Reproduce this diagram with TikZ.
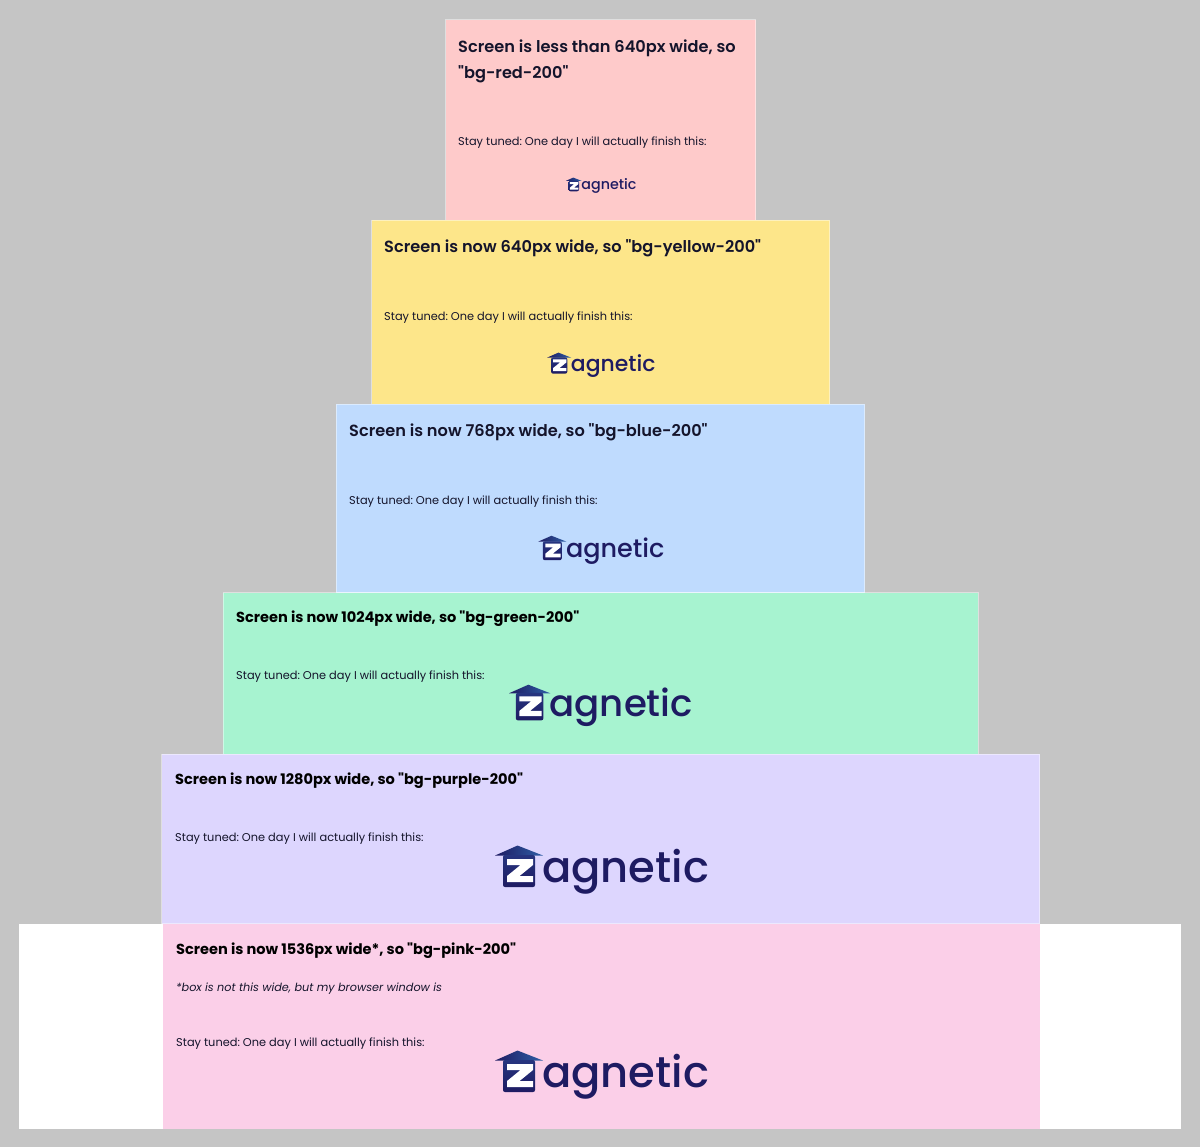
\documentclass[tikz,border=0pt]{standalone}
\usepackage{fontspec}
\usetikzlibrary{shadings}
\definecolor{pagegray}{HTML}{C5C5C5}
\definecolor{redbox}{HTML}{FECACA}
\definecolor{yellowbox}{HTML}{FDE68A}
\definecolor{bluebox}{HTML}{BFDBFE}
\definecolor{greenbox}{HTML}{A7F3D0}
\definecolor{purplebox}{HTML}{DDD6FE}
\definecolor{pinkbox}{HTML}{FBCFE8}
\definecolor{logonavy}{HTML}{1E1B62}
\definecolor{logomid}{HTML}{26357F}
\definecolor{logoblue}{HTML}{2E5FA6}
\definecolor{inktext}{HTML}{14142B}
\newfontfamily\bodyfont{Poppins}
\newfontfamily\headfont{Poppins SemiBold}
\newfontfamily\logofont{Poppins Medium}
\tikzset{
  panel/.style={draw=white, draw opacity=0.45, line width=0.01cm},
  headline/.style={anchor=base west, inner sep=0pt, xshift=-0.005cm, text=inktext, font=\frenchspacing\fontsize{4.6}{6}\headfont},
  headlinesmall/.style={headline, text=black, font=\frenchspacing\fontsize{4.14}{6}\bodyfont\bfseries},
  staytuned/.style={anchor=base west, inner sep=0pt, xshift=-0.005cm, text=inktext, font=\frenchspacing\fontsize{3.23}{5}\bodyfont},
  zaglogo/.pic={
    \shade[left color=logonavy, right color=logoblue] (-106.5,-12.5) -- (-84,-22.5) -- (-58.5,-12.5) -- cycle;
    \shade[top color=logomid, bottom color=logonavy, rounded corners=0.02cm] (-98.5,-13) rectangle (-66.5,19);
    \fill[white] (-94.5,-9) -- (-68.5,-9) -- (-68.5,-3) -- (-82,8) -- (-68.5,8) -- (-68.5,14) -- (-94.5,14) -- (-94.5,8) -- (-81,-3) -- (-94.5,-3) -- cycle;
    \node[anchor=base west, inner sep=0pt, transform shape, text=logonavy, font=\fontsize{12.3}{14}\logofont] (-wordmark) at (-60,14.5) {agnetic};
  }
}
\begin{document}
\begin{tikzpicture}[x=0.01cm, y=-0.01cm]
    \useasboundingbox (0,0) rectangle (1200,1147);
    \fill[pagegray] (0,0) rectangle (1200,1147);

    \draw[panel, fill=redbox] (445.5,19.5) rectangle (755.5,220);
    \draw[panel, fill=yellowbox] (371.5,220) rectangle (829.5,404);
    \draw[panel, fill=bluebox] (336,404) rectangle (864.5,592.5);
    \draw[panel, fill=greenbox] (223,592.5) rectangle (978,754);
    \draw[panel, fill=purplebox] (161.5,754) rectangle (1039.5,923.5);
    \fill[white] (19,924) rectangle (1181,1129);
    \fill[pinkbox] (163,924) rectangle (1040,1129);

    \node[headline] (redhead) at (458,52.5) {Screen is less than 640px wide, so};
    \node[headline] (redheadb) at (458,78) {"bg-red-200"};
    \node[staytuned] (redstay) at (458,145.5) {Stay tuned: One day I will actually finish this:};
    \pic (redlogo) [scale=0.33] at (601,185) {zaglogo};

    \node[headline] (yellowhead) at (384,252) {Screen is now 640px wide, so "bg-yellow-200"};
    \node[staytuned] (yellowstay) at (384,320.5) {Stay tuned: One day I will actually finish this:};
    \pic (yellowlogo) [scale=0.507] at (601,364) {zaglogo};

    \node[headline] (bluehead) at (349,436) {Screen is now 768px wide, so "bg-blue-200"};
    \node[staytuned] (bluestay) at (349,504.5) {Stay tuned: One day I will actually finish this:};
    \pic (bluelogo) [scale=0.59] at (601,549) {zaglogo};

    \node[headlinesmall] (greenhead) at (236,622.5) {Screen is now 1024px wide, so "bg-green-200"};
    \node[staytuned] (greenstay) at (236,679.5) {Stay tuned: One day I will actually finish this:};
    \pic (greenlogo) [scale=0.859] at (600.5,704) {zaglogo};

    \node[headlinesmall] (purplehead) at (175,784.5) {Screen is now 1280px wide, so "bg-purple-200"};
    \node[staytuned] (purplestay) at (175,841.5) {Stay tuned: One day I will actually finish this:};
    \pic (purplelogo) at (601.5,868) {zaglogo};

    \node[headlinesmall] (pinkhead) at (176,954) {Screen is now 1536px wide*, so "bg-pink-200"};
    \node[staytuned, font=\frenchspacing\fontsize{3.2}{5}\bodyfont\itshape] (pinknote) at (176,991.5) {*box is not this wide, but my browser window is};
    \node[staytuned] (pinkstay) at (176,1046.5) {Stay tuned: One day I will actually finish this:};
    \pic (pinklogo) at (601.5,1073) {zaglogo};
\end{tikzpicture}
\end{document}
